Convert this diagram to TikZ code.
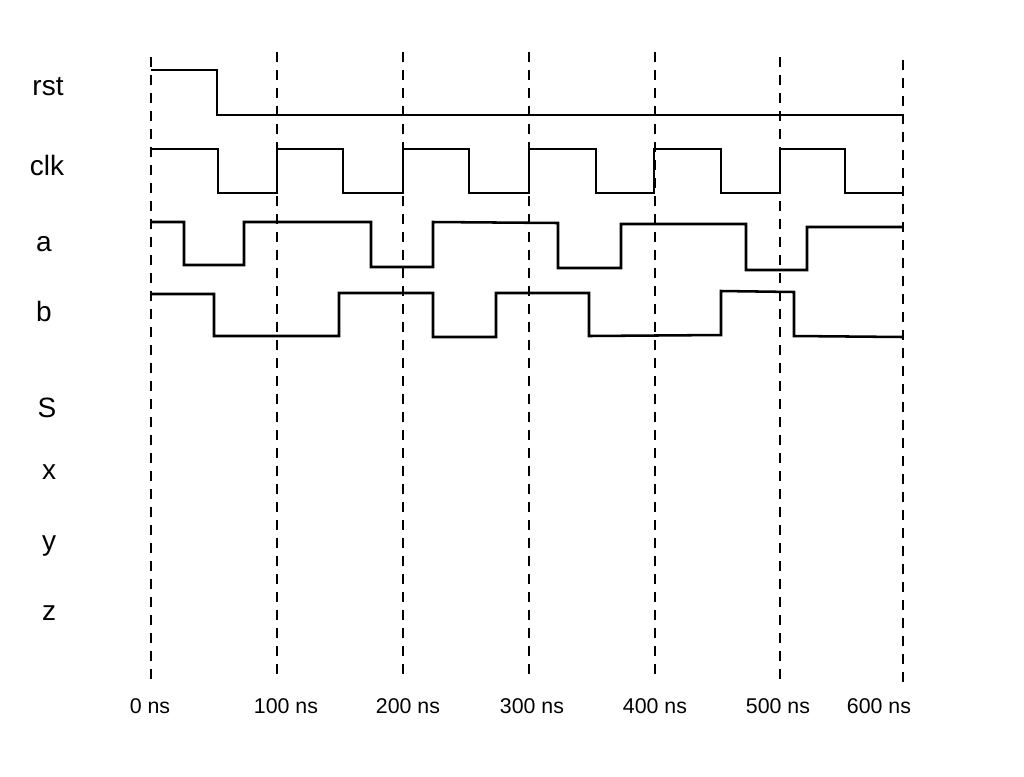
\documentclass[tikz,border=0pt]{standalone}
\usepackage{fontspec}
\setmainfont{Liberation Sans}
\begin{document}
\begin{tikzpicture}[x=0.75pt,y=-0.75pt,
  wave/.style={line width=1.9pt,line join=miter},
  grid/.style={line width=1.9pt,dash pattern=on 7.5pt off 6pt},
  sig/.style={anchor=base,inner sep=0pt,font=\fontsize{21}{25}\selectfont},
  tick/.style={anchor=base,inner sep=0pt,font=\fontsize{16}{19}\selectfont}]
\useasboundingbox (0,0) rectangle (1024,776);
% time grid
\foreach \x/\t/\b [count=\i] in {151/57/682,277/52/682,403/52/682,529/52/682,655/52/682,780/57/682,903/60/683}{
  \coordinate (gt\i) at (\x,\t);
  \coordinate (gb\i) at (\x,\b);
  \draw[grid] (gt\i) -- (gb\i);
}
% signal labels
\node[sig] (lrst) at (48,95) {rst};
\node[sig] (lclk) at (47,175) {clk};
\node[sig] (la) at (44,251) {a};
\node[sig] (lb) at (44,321) {b};
\node[sig] (lS) at (47,417) {S};
\node[sig] (lx) at (49,479) {x};
\node[sig] (ly) at (49,550) {y};
\node[sig] (lz) at (49,620) {z};
% time labels
\node[tick] (t0) at (150,713) {0 ns};
\node[tick] (t1) at (286,713) {100 ns};
\node[tick] (t2) at (408,713) {200 ns};
\node[tick] (t3) at (532,713) {300 ns};
\node[tick] (t4) at (655,713) {400 ns};
\node[tick] (t5) at (778,713) {500 ns};
\node[tick] (t6) at (879,713) {600 ns};
% rst
\draw[wave] (151,70) -- (217,70) -- (217,115) -- (903,115);
% clk
\draw[wave] (151,149) -- (218,149) -- (218,193) -- (277,193) -- (277,149) -- (343,149) -- (343,193)
  -- (403,193) -- (403,149) -- (469,149) -- (469,193) -- (529,193) -- (529,149) -- (596,149)
  -- (596,193) -- (654,193) -- (654,149) -- (721,149) -- (721,193) -- (780,193) -- (780,149)
  -- (845,149) -- (845,193) -- (903,193);
% a
\draw[wave] (151,222) -- (184,222) -- (184,265) -- (244,265) -- (244,222) -- (371,222) -- (371,267)
  -- (433,267) -- (433,222) -- (558,223) -- (558,268) -- (621,268) -- (621,224) -- (746,224)
  -- (746,270) -- (807,270) -- (807,227) -- (903,227);
% b
\draw[wave] (151,294) -- (214,294) -- (214,336) -- (339,336) -- (339,293) -- (433,293) -- (433,337)
  -- (496,337) -- (496,293) -- (589,293) -- (589,336) -- (721,335) -- (721,291) -- (794,292)
  -- (794,336) -- (903,337);
\end{tikzpicture}
\end{document}
